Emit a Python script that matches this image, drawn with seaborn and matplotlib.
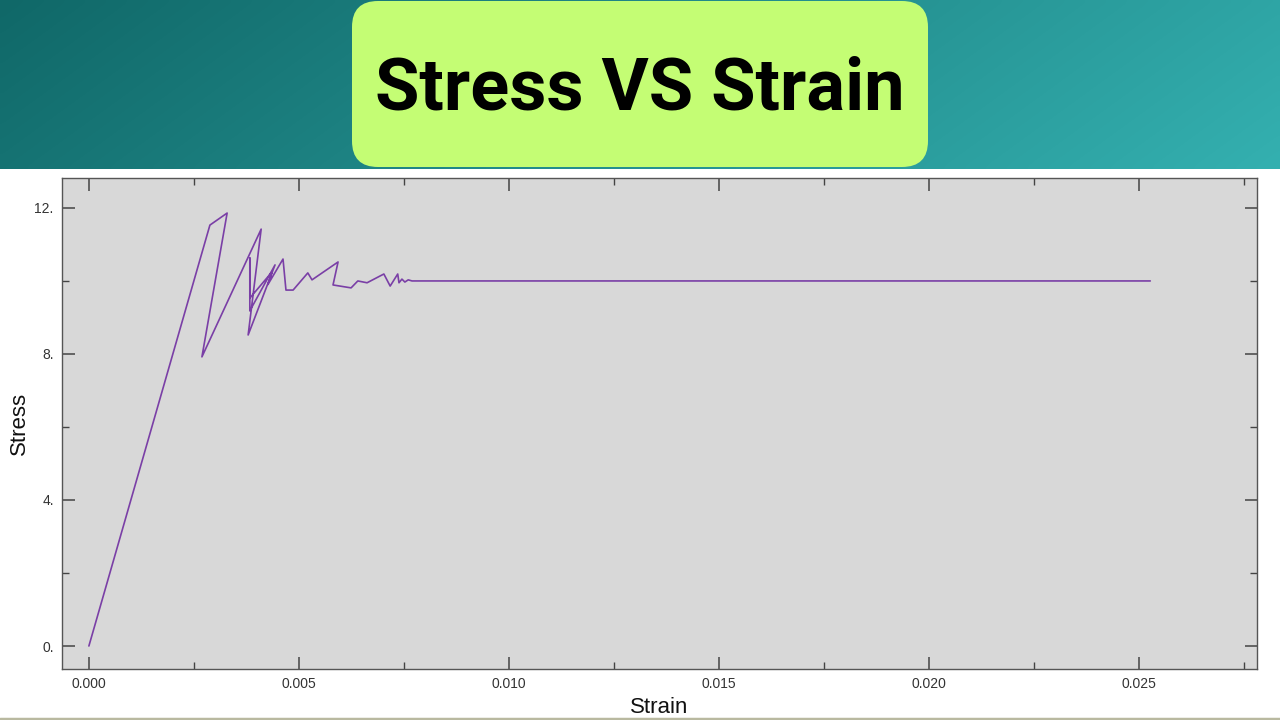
import numpy as np
import matplotlib
matplotlib.use("Agg")
import matplotlib.pyplot as plt
from matplotlib.patches import FancyBboxPatch
from matplotlib.ticker import MultipleLocator
import seaborn as sns
import pandas as pd

# ---- data ----
strain = [0.0, 0.00288, 0.00329, 0.00269, 0.00410, 0.00379, 0.00443, 0.00383,
          0.00383, 0.00383, 0.00436, 0.00426, 0.00462, 0.00469, 0.00486, 0.00521,
          0.00531, 0.00593, 0.00581, 0.00624, 0.00640, 0.00662, 0.00702, 0.00717,
          0.00735, 0.00738, 0.00745, 0.00752, 0.00760, 0.00769, 0.02526]
stress = [0.0, 11.53, 11.86, 7.92, 11.42, 8.52, 10.44, 9.18,
          10.63, 9.53, 10.25, 9.90, 10.60, 9.75, 9.75, 10.22,
          10.03, 10.52, 9.89, 9.81, 10.00, 9.95, 10.19, 9.86,
          10.19, 9.95, 10.05, 9.97, 10.03, 10.00, 10.00]
x_ticks = [0.000, 0.005, 0.010, 0.015, 0.020, 0.025]
x_tick_labels = ["0.000", "0.005", "0.010", "0.015", "0.020", "0.025"]
y_ticks = [0, 4, 8, 12]
y_tick_labels = ["0.", "4.", "8.", "12."]
title_text = "Stress VS Strain"

df = pd.DataFrame({"Strain": strain, "Stress": stress})

sns.set_style("ticks")
plt.rcParams["font.family"] = ["Liberation Sans", "DejaVu Sans"]

W, H = 1280, 720
fig = plt.figure(figsize=(12.8, 7.2), dpi=100)
fig.patch.set_facecolor("white")

# ---- banner ----
bh = 169
axb = fig.add_axes([0, (H - bh) / H, 1, bh / H])
gx = np.linspace(0, 1, 256)[None, :]
gy = np.linspace(0, 1, 32)[:, None]
c_left = np.array([16, 104, 104]) / 255.0
c_right = np.array([52, 176, 176]) / 255.0
t = np.clip(gx * 0.85 + gy * 0.15, 0, 1)
img = c_left[None, None, :] * (1 - t[..., None]) + c_right[None, None, :] * t[..., None]
axb.imshow(img, extent=[0, W, bh, 0], aspect="auto", interpolation="bicubic")
axb.set_xlim(0, W)
axb.set_ylim(bh, 0)
axb.axis("off")
box = FancyBboxPatch((352, 1), 576, 166, boxstyle="round,pad=0,rounding_size=26",
                     facecolor="#c4fd74", edgecolor="none")
axb.add_patch(box)
axb.text(640, 90, title_text, ha="center", va="center", fontsize=52,
         fontweight="bold", color="black", family=["Roboto", "DejaVu Sans"])

# bottom thin line
fig.add_artist(plt.Line2D([0, 1], [1.5 / H, 1.5 / H], color="#b9b9a0", lw=2.5))

# ---- main chart ----
ax = fig.add_axes([62 / W, (H - 669) / H, (1257 - 62) / W, (669 - 178) / H])
ax.set_facecolor("#d8d8d8")
sns.lineplot(data=df, x="Strain", y="Stress", sort=False, estimator=None,
             color="#7a3fa6", linewidth=1.2, ax=ax)
ax.set_xlim(-0.00064, 0.0278)
ax.set_ylim(-0.63, 12.82)
ax.set_xticks(x_ticks)
ax.set_xticklabels(x_tick_labels)
ax.set_yticks(y_ticks)
ax.set_yticklabels(y_tick_labels)
ax.xaxis.set_minor_locator(MultipleLocator(0.0025))
ax.yaxis.set_minor_locator(MultipleLocator(2))
ax.tick_params(which="both", direction="in", top=True, right=True,
               color="#444444", labelcolor="#333333", labelsize=10)
ax.tick_params(which="major", length=9, width=1.1, pad=6)
ax.tick_params(which="minor", length=5, width=1.0)
for s in ax.spines.values():
    s.set_color("#555555")
    s.set_linewidth(1.0)
ax.set_xlabel("Strain", fontsize=16, color="#111111", labelpad=4)
ax.set_ylabel("Stress", fontsize=16, color="#111111", labelpad=3)

fig.savefig("out.png", dpi=100, facecolor=fig.get_facecolor())
